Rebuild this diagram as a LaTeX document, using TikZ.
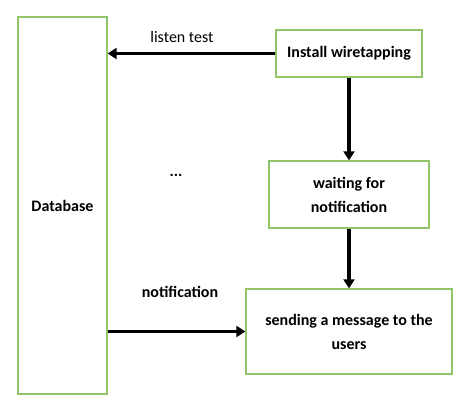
\documentclass[tikz,border=0pt]{standalone}
\usepackage{fontspec}
\setmainfont{Carlito}
\usetikzlibrary{arrows.meta}
\definecolor{boxgreen}{RGB}{146,196,104}
\begin{document}
\begin{tikzpicture}[x=1pt,y=-1pt,
  box/.style={draw=boxgreen,line width=1.3pt,inner sep=0pt,font=\bfseries\fontsize{16}{24}\selectfont,align=center},
  conn/.style={line width=3.8pt,-{Triangle[length=9pt,width=11pt]}},
  lbl/.style={font=\fontsize{16}{20}\selectfont}]
\useasboundingbox (0,0) rectangle (474,407);
\node[box,minimum width=89pt,minimum height=377pt] (db) at (62.5,205.5) {Database};
\node[box,minimum width=146pt,minimum height=47pt] (inst) at (349,53.5) {Install wiretapping};
\node[box,minimum width=160pt,minimum height=67pt] (wait) at (349,194.5) {waiting for\\notification};
\node[box,minimum width=206pt,minimum height=85pt] (send) at (349,331.5) {sending a message to the\\users};
\node[lbl] (lt) at (182,37) {listen test};
\node[lbl,font=\bfseries\fontsize{16}{20}\selectfont] (nt) at (180,292) {notification};
\node[lbl,font=\bfseries\fontsize{16}{20}\selectfont] (dots) at (176,175) {...};
\draw[conn] (inst.west) -- (db.east |- inst.west);
\draw[conn] (inst.south) -- (wait.north);
\draw[conn] (wait.south) -- (send.north);
\draw[conn] (db.east |- send.west) -- (send.west);
\end{tikzpicture}
\end{document}
